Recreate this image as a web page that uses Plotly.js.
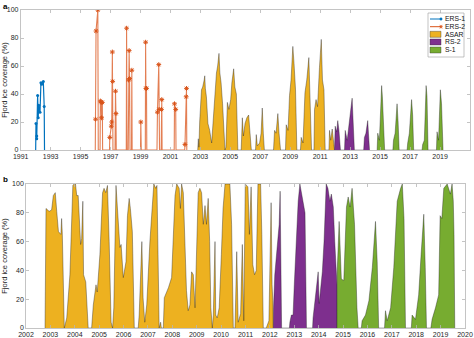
<!DOCTYPE html>
<html><head><meta charset="utf-8">
<script src="https://cdn.plot.ly/plotly-3.0.1.min.js"></script>
<style>html,body{margin:0;padding:0;background:#fff}#chart{width:474px;height:338px}</style>
</head><body><div id="chart"></div>
<script>
// ---------- DATA (decimal years, % coverage) ----------
var ers1T = [1992.00,1992.02,1992.07,1992.07,1992.13,1992.17,1992.20,1992.29,1992.35,1992.40,1992.51,1992.57,1992.59];
var ers1V = [0,19,10,8,39,23,32,27,48,47,49,31,0];

var ers2T = [1995.98,1996.00,1996.03,1996.15,1996.18, 1996.30,1996.32,1996.38,1996.40,1996.45,1996.47,
             1996.93,1996.95,1997.05,1997.08,1997.12,1997.14,1997.16, 1997.30,1997.33,1997.36,1997.38,
             1998.05,1998.07,1998.10, 1998.18,1998.20,1998.24,1998.27,1998.30, 1998.40,1998.42,1998.44,
             1999.00,1999.02,1999.05, 1999.32,1999.34,1999.36,1999.40,1999.42,
             2000.10,2000.13,2000.22,2000.24,2000.27, 2000.38,2000.40,2000.42,2000.44,
             2001.25,2001.27,2001.35,2001.37, 2001.95,2001.97,2002.05,2002.07,2002.09];
var ers2V = [0,22,85,100,0, 0,35,34,23,34,0,
             0,9,17,20,70,49,0, 0,42,26,0,
             0,87,0, 0,50,71,51,0, 0,57,0,
             0,20,0, 0,77,44,44,0,
             0,27,61,29,0, 0,29,36,0,
             0,33,29,0, 0,4,38,44,0];

var asarTopT = [2002.82,2002.86,2002.90,2002.95,2003.07,2003.15,2003.25,2003.29,2003.33,2003.40,2003.50,2003.62,2003.75,2003.85,2003.95,
  2004.07,2004.15,2004.24,2004.30,2004.38,2004.48,2004.64,2004.70,2004.80,2004.90,2005.02,2005.10,2005.22,2005.30,2005.40,2005.50,
  2005.72,2005.80,2005.87,2005.98,2006.10,2006.22,2006.30,2006.40,2006.68,2006.73,2006.80,2006.95,2007.05,2007.13,2007.20,2007.27,
  2007.88,2007.95,2008.05,2008.17,2008.25,2008.35,2008.68,2008.73,2008.85,2008.95,2009.05,2009.17,2009.25,2009.35,2009.44,
  2009.68,2009.73,2009.85,2009.98,2010.10,2010.24,2010.32,2010.42,2010.58,2010.62,2010.72,2010.82,2010.95,2011.07,2011.15,2011.25,2011.33,
  2011.58,2011.62,2011.70,2011.80,2011.88,2011.95];
var asarTopV = [0,8,2,20,43,45,50,53,44,38,19,14,5,21,40,
  55,60,69,55,48,33,0,2,34,29,36,48,58,45,40,0,
  0,23,10,19,23,25,15,0,0,11,3,5,12,30,12,0,
  0,14,12,26,12,0,0,18,14,39,50,74,62,43,0,
  0,9,5,41,50,66,41,0,0,29,36,31,59,79,50,43,0,
  0,14,7,15,7,0];

var rs2TopT = [2011.95,2012.00,2012.10,2012.17,2012.25,2012.35, 2012.62,2012.67,2012.80,2012.95,2013.05,2013.13,2013.20,2013.28,
  2013.90,2013.95,2014.05,2014.17,2014.22,2014.29];
var rs2TopV = [0,17,13,21,14,0, 0,14,7,24,30,37,24,0, 0,9,12,21,12,0];

var s1TopT = [2014.80,2014.84,2014.95,2015.10,2015.15,2015.25,2015.30, 2015.85,2015.89,2016.00,2016.13,2016.20,2016.27,
  2016.80,2016.84,2016.95,2017.10,2017.17,2017.24, 2017.80,2017.84,2017.95,2018.07,2018.13,2018.20,
  2018.76,2018.80,2018.90,2019.02,2019.10,2019.20];
var s1TopV = [0,12,7,46,38,12,0, 0,7,12,33,20,0, 0,5,12,36,25,0, 0,4,7,46,38,0, 0,13,7,43,33,0];

var asarBotT = [2002.78,2002.79,2002.82,2002.95,2003.05,2003.12,2003.20,2003.26,2003.33,2003.43,2003.46,2003.49,2003.57,2003.67,2003.80,
  2003.92,2003.97,2004.03,2004.08,2004.14,2004.20,2004.24,2004.28,2004.33,2004.36,2004.45,2004.55,2004.69,2004.76,2004.87,2004.92,
  2005.03,2005.14,2005.20,2005.27,2005.34,2005.41,2005.49,2005.55,2005.60,2005.69,2005.76,2005.85,2005.90,2005.99,2006.10,2006.16,
  2006.23,2006.28,2006.36,2006.44,2006.60,2006.64,2006.75,2006.80,2006.87,2006.95,2007.08,2007.19,2007.24,2007.32,2007.37,2007.46,
  2007.52,2007.55,2007.63,2007.67,2007.84,2007.97,2008.04,2008.11,2008.18,2008.28,2008.33,2008.38,2008.45,2008.52,2008.58,2008.65,
  2008.72,2008.79,2008.86,2008.93,2009.00,2009.06,2009.13,2009.20,2009.27,2009.34,2009.40,2009.47,2009.53,2009.58,2009.64,2009.68,
  2009.75,2009.78,2009.84,2009.92,2010.01,2010.08,2010.16,2010.36,2010.43,2010.50,2010.57,2010.64,2010.70,2010.80,2010.87,2010.93,
  2010.99,2011.10,2011.16,2011.23,2011.30,2011.37,2011.44,2011.51,2011.62,2011.67,2011.73,2011.85,2011.96,2012.05,2012.09,2012.12,2012.14];
var asarBotV = [0,72,83,81,82,92,94,81,67,65,76,65,0,7,37,
  99,100,100,92,92,67,58,62,88,37,32,0,0,16,30,25,
  51,94,97,94,99,60,4,0,14,99,83,56,58,35,46,78,
  90,83,67,0,0,9,60,21,4,16,60,94,100,97,99,0,
  4,0,0,21,28,35,67,92,100,97,83,100,94,60,26,12,
  16,39,37,14,49,94,97,94,72,85,72,90,60,14,0,9,
  60,9,7,14,51,83,100,100,72,0,0,53,4,10,58,5,
  100,98,65,98,44,37,40,100,100,65,0,0,5,87,30,19,0];

var rs2BotT = [2012.14,2012.15,2012.20,2012.27,2012.33,2012.38,2012.42,2012.48, 2012.80,2012.82,2012.88,2012.95,2013.00,2013.07,2013.16,
  2013.23,2013.30,2013.37,2013.44,2013.50, 2013.75,2013.77,2013.90,2013.98,2014.02,2014.15,2014.22,2014.31,2014.38,2014.46,2014.52,
  2014.60,2014.66,2014.75,2014.75];
var rs2BotV = [0,14,37,51,60,72,95,0, 0,4,9,9,30,60,88,
  100,93,84,80,0, 0,7,25,39,17,39,60,100,97,88,93,
  84,60,30,0];

var s1BotT = [2014.75,2014.76,2014.84,2014.93,2015.03,2015.14,2015.21,2015.29,2015.37,2015.47,2015.57,2015.62,
  2015.75,2015.78,2015.92,2016.06,2016.20,2016.27,2016.33,2016.40,2016.46, 2016.70,2016.74,2016.81,2016.95,2017.08,2017.22,
  2017.36,2017.43,2017.50,2017.56, 2017.80,2017.83,2017.97,2018.10,2018.20,2018.31,2018.37,2018.42,
  2018.60,2018.65,2018.79,2018.92,2018.98,2019.05,2019.13,2019.27,2019.40,2019.47,2019.52,2019.55,2019.58];
var s1BotV = [0,39,74,34,33,84,91,84,97,72,14,0,
  0,5,9,19,42,60,74,46,0, 0,12,5,14,42,88,
  97,100,76,0, 0,9,6,23,51,79,42,0,
  0,6,14,23,78,76,97,100,93,100,88,65,0];

var topTicks = [1991,1993,1995,1997,1999,2001,2003,2005,2007,2009,2011,2013,2015,2017,2019];
var botTicks = [2002,2003,2004,2005,2006,2007,2008,2009,2010,2011,2012,2013,2014,2015,2016,2017,2018,2019,2020];
var yTicks = [0,20,40,60,80,100];
var legendNames = ['ERS-1','ERS-2','ASAR','RS-2','S-1'];

// ---------- STYLE ----------
var W = 474, H = 338;
function px(x){return x/W;}
function py(y){return 1 - y/H;}
var C = {ers1:'#0072BD', ers2:'rgba(217,83,25,0.75)', ers2m:'#D95319', asar:'#EDB120', rs2:'#7E2F8E', s1:'#77AC30'};
var FONT = 'Liberation Sans, Arial, Helvetica, sans-serif';
var edge = {color:'rgba(30,30,30,0.75)', width:0.5};

function area(t, v, col, xa, ya, name){
  return {x:t, y:v, type:'scatter', mode:'lines', fill:'tozeroy', fillcolor:col,
          line:edge, xaxis:xa, yaxis:ya, name:name, showlegend:false, hoverinfo:'skip'};
}
var traces = [
  {x:ers1T, y:ers1V, type:'scatter', mode:'lines+markers', line:{color:C.ers1, width:1.2},
   marker:{symbol:'circle', size:3, color:C.ers1, opacity:ers1V.map(function(v){return v>0?1:0;})},
   xaxis:'x', yaxis:'y', showlegend:false},
  {x:ers2T, y:ers2V, type:'scatter', mode:'lines+markers', line:{color:C.ers2, width:1.1},
   marker:{symbol:'asterisk-open', size:4, line:{color:C.ers2m, width:1}, color:C.ers2m,
           opacity:ers2V.map(function(v){return v>0?1:0;})},
   xaxis:'x', yaxis:'y', showlegend:false},
  area(asarTopT, asarTopV, C.asar, 'x', 'y', 'ASAR'),
  area(rs2TopT, rs2TopV, C.rs2, 'x', 'y', 'RS-2'),
  area(s1TopT, s1TopV, C.s1, 'x', 'y', 'S-1'),
  area(asarBotT, asarBotV, C.asar, 'x2', 'y2', 'ASAR'),
  area(rs2BotT, rs2BotV, C.rs2, 'x2', 'y2', 'RS-2'),
  area(s1BotT, s1BotV, C.s1, 'x2', 'y2', 'S-1')
];

var axBase = {showline:true, mirror:'ticks', linecolor:'#b5b5b5', linewidth:0.8, ticks:'inside', ticklen:3,
  tickcolor:'#b5b5b5', tickwidth:0.8, showgrid:false, zeroline:false, fixedrange:true,
  tickfont:{family:FONT, size:7, color:'#262626'}};
function ax(extra){ var o = {}; for (var k in axBase) o[k]=axBase[k]; for (var k2 in extra) o[k2]=extra[k2]; return o; }

var ytitle = {text:'Fjord ice coverage (%)', font:{family:FONT, size:7.5, color:'#262626'}};

// manual legend
var shapes = [];
var annotations = [
  {text:'<b>a</b>', x:px(1), y:py(0), xref:'paper', yref:'paper', xanchor:'left', yanchor:'top', showarrow:false, font:{family:FONT, size:8, color:'#000'}},
  {text:'<b>b</b>', x:px(1), y:py(173), xref:'paper', yref:'paper', xanchor:'left', yanchor:'top', showarrow:false, font:{family:FONT, size:8, color:'#000'}}
];
shapes.push({type:'rect', xref:'paper', yref:'paper', x0:px(428), x1:px(464), y0:py(13), y1:py(57), line:{color:'#9a9a9a', width:0.6}, fillcolor:'#fff', layer:'above'});
var rowY = [19, 26.7, 34.3, 42, 50];
var legCols = [C.ers1, C.ers2m, C.asar, C.rs2, C.s1];
legendNames.forEach(function(n, i){
  var yy = rowY[i];
  if (i < 2) {
    shapes.push({type:'line', xref:'paper', yref:'paper', x0:px(430), x1:px(441), y0:py(yy), y1:py(yy), line:{color:legCols[i], width:1}, layer:'above'});
    if (i === 0) {
      shapes.push({type:'circle', xref:'paper', yref:'paper', x0:px(439.8), x1:px(442.2), y0:py(yy-1.2), y1:py(yy+1.2), line:{color:legCols[i], width:0.5}, fillcolor:legCols[i], layer:'above'});
    } else {
      var cx = 441, r = 1.8;
      var p = 'M'+px(cx-r)+','+py(yy)+' L'+px(cx+r)+','+py(yy)+
              ' M'+px(cx-r*0.6)+','+py(yy-r)+' L'+px(cx+r*0.6)+','+py(yy+r)+
              ' M'+px(cx-r*0.6)+','+py(yy+r)+' L'+px(cx+r*0.6)+','+py(yy-r);
      shapes.push({type:'path', xref:'paper', yref:'paper', path:p, line:{color:legCols[i], width:0.8}, layer:'above'});
    }
  } else {
    shapes.push({type:'rect', xref:'paper', yref:'paper', x0:px(430), x1:px(441), y0:py(yy-3), y1:py(yy+3), line:{color:'#333', width:0.4}, fillcolor:legCols[i], layer:'above'});
  }
  annotations.push({text:n, x:px(443), y:py(yy), xref:'paper', yref:'paper', xanchor:'left', yanchor:'middle', showarrow:false,
                    font:{family:FONT, size:6.8, color:'#111'}});
});

var layout = {
  width:W, height:H, margin:{l:0, r:0, t:0, b:0}, paper_bgcolor:'#fff', plot_bgcolor:'#fff', showlegend:false,
  xaxis: ax({domain:[px(20.7), px(470)], range:[1991, 2021], tickmode:'array', tickvals:topTicks, ticktext:topTicks.map(String), anchor:'y'}),
  yaxis: ax({domain:[py(150), py(10)], range:[0, 100], tickmode:'array', tickvals:yTicks, title:ytitle, anchor:'x'}),
  xaxis2: ax({domain:[px(26), px(465)], range:[2002, 2020], tickmode:'array', tickvals:botTicks, ticktext:botTicks.map(String), anchor:'y2'}),
  yaxis2: ax({domain:[py(328), py(184)], range:[0, 100], tickmode:'array', tickvals:yTicks, title:ytitle, anchor:'x2'}),
  shapes:shapes, annotations:annotations
};
Plotly.newPlot('chart', traces, layout, {staticPlot:true, displayModeBar:false});
</script></body></html>
